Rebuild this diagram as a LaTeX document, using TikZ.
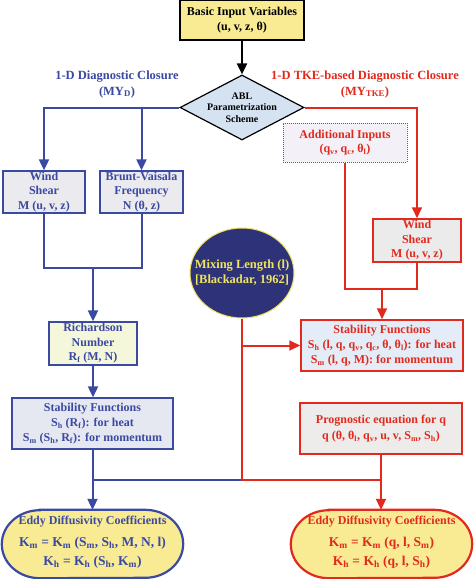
\documentclass[tikz,border=0pt]{standalone}
\usepackage{fontspec}
\setmainfont{Liberation Serif}
\usetikzlibrary{shapes.geometric,arrows.meta}
\definecolor{cblue}{HTML}{3A49A2}
\definecolor{cred}{HTML}{E12A1D}
\definecolor{yel}{HTML}{F8EB93}
\definecolor{diafill}{HTML}{D4E2F1}
\definecolor{greyfill}{HTML}{EBEBEF}
\definecolor{rifill}{HTML}{F5F7DB}
\definecolor{stlfill}{HTML}{E6E8F1}
\definecolor{aifill}{HTML}{F3F0F8}
\definecolor{wsrfill}{HTML}{ECEBEB}
\definecolor{strfill}{HTML}{E3ECF7}
\definecolor{pgfill}{HTML}{EEEBEB}
\definecolor{navy}{HTML}{2E3278}
\definecolor{mlyel}{HTML}{EEE462}
\newcommand{\sbs}[1]{\textsubscript{#1}}
\begin{document}
\begin{tikzpicture}[x=1pt,y=-1pt,
  txt/.style={font=\bfseries\fontsize{12}{14.5}\selectfont, align=center},
  bbox/.style={txt, rectangle, draw=cblue, line width=1.3pt, text=cblue, inner sep=0pt},
  rbox/.style={txt, rectangle, draw=cred, line width=1.5pt, text=cred, inner sep=0pt},
  bl/.style={draw=cblue, line width=2pt},
  rl/.style={draw=cred, line width=2pt},
  tip/.style={-{Triangle[length=11pt,width=10pt]}},
  stadium/.style={fill=yel, line width=2.2pt},
]
\useasboundingbox (0,0) rectangle (474,579);
\clip (0,0) rectangle (474,579);
\fill[white] (0,0) rectangle (474,579);

% top
\node[txt, rectangle, draw=black, line width=1.6pt, fill=yel, minimum width=124, minimum height=40, inner sep=0pt] (basic) at (242,20) {Basic Input Variables\\(u, v, z, θ)};
\node[diamond, draw=black, line width=1.2pt, fill=diafill, minimum width=124, minimum height=65, inner sep=0pt] (abl) at (242,107.5) {};
\node[font=\bfseries\fontsize{10}{11.5}\selectfont, align=center, text=black] (abltxt) at (abl) {ABL\\Parametrization\\Scheme};

\node[txt, text=cblue, font=\bfseries\fontsize{12.5}{16}\selectfont] (lblL) at (117,84) {1-D Diagnostic Closure\\(MY\sbs{D})};
\node[txt, text=cred, font=\bfseries\fontsize{12.5}{16}\selectfont] (lblR) at (365,84) {1-D TKE-based Diagnostic Closure\\(MY\sbs{TKE})};

% left branch
\node[bbox, fill=greyfill, minimum width=82, minimum height=42] (wsl) at (44,192) {Wind\\Shear\\M (u, v, z)};
\node[bbox, fill=greyfill, minimum width=83, minimum height=42] (bvf) at (141.5,192) {Brunt-Vaisala\\Frequency\\N (θ, z)};
\node[bbox, fill=rifill, minimum width=88, minimum height=43] (ri) at (93,343.5) {Richardson\\Number\\R\sbs{f} (M, N)};
\node[bbox, fill=stlfill, minimum width=161, minimum height=51, font=\bfseries\fontsize{12}{15}\selectfont] (stl) at (92.5,423.5) {Stability Functions\\S\sbs{h} (R\sbs{f}): for heat\\S\sbs{m} (S\sbs{h}, R\sbs{f}): for momentum};

% right branch
\node[rbox, dash pattern=on 1pt off 1pt, line width=1pt, fill=aifill, minimum width=124, minimum height=39] (ai) at (345,142.5) {Additional Inputs\\(q\sbs{v}, q\sbs{c}, θ\sbs{l})};
\node[rbox, fill=wsrfill, minimum width=88, minimum height=43] (wsr) at (417,240.5) {Wind\\Shear\\M (u, v, z)};
\node[rbox, fill=strfill, minimum width=162, minimum height=51, font=\bfseries\fontsize{12}{15}\selectfont] (str) at (382,345.5) {Stability Functions\\S\sbs{h} (l, q, q\sbs{v}, q\sbs{c}, θ, θ\sbs{l}): for heat\\S\sbs{m} (l, q, M): for momentum};
\node[rbox, fill=pgfill, minimum width=162, minimum height=51, font=\bfseries\fontsize{12}{16}\selectfont] (pg) at (381,428.5) {Prognostic equation for q\\q (θ, θ\sbs{l}, q\sbs{v}, u, v, S\sbs{m}, S\sbs{h})};

% mixing length
\node[ellipse, draw=mlyel, line width=1pt, fill=navy, minimum width=104, minimum height=90, inner sep=0pt] (ml) at (242,273) {};
\node[text=mlyel, font=\bfseries\fontsize{12.5}{15}\selectfont, align=center] (mltxt) at (ml) {Mixing Length (l)\\{[}Blackadar, 1962{]}};

% eddy shapes (stadiums with elliptical ends)
\node[minimum width=181, minimum height=68, inner sep=0pt] (edl) at (92.5,544) {};
\node[minimum width=181, minimum height=68, inner sep=0pt] (edr) at (381.5,544) {};
\draw[stadium, draw=cblue] ([xshift=38pt]edl.north west) -- ([xshift=-38pt]edl.north east) arc[start angle=90, end angle=-90, x radius=38pt, y radius=34pt] -- ([xshift=38pt]edl.south west) arc[start angle=270, end angle=90, x radius=38pt, y radius=34pt] -- cycle;
\draw[stadium, draw=cred] ([xshift=38pt]edr.north west) -- ([xshift=-38pt]edr.north east) arc[start angle=90, end angle=-90, x radius=38pt, y radius=34pt] -- ([xshift=38pt]edr.south west) arc[start angle=270, end angle=90, x radius=38pt, y radius=34pt] -- cycle;
\node[text=cblue, font=\bfseries\fontsize{12}{14}\selectfont] (edlt) at (92.5,522) {Eddy Diffusivity Coefficients};
\node[text=cblue, font=\bfseries\fontsize{13.5}{19}\selectfont, align=center] (edlf) at (92.5,552.5) {K\sbs{m} = K\sbs{m} (S\sbs{m}, S\sbs{h}, M, N, l)\\K\sbs{h} = K\sbs{h} (S\sbs{h}, K\sbs{m})};
\node[text=cred, font=\bfseries\fontsize{12}{14}\selectfont] (edrt) at (381.5,522) {Eddy Diffusivity Coefficients};
\node[text=cred, font=\bfseries\fontsize{13.5}{19}\selectfont, align=center] (edrf) at (381.5,552.5) {K\sbs{m} = K\sbs{m} (q, l, S\sbs{m})\\K\sbs{h} = K\sbs{h} (q, l, S\sbs{h})};

% connectors
\draw[black, line width=2pt, tip] (basic.south) -- (abl.north);
\draw[bl, tip] (abl.west) -| (wsl.north);
\draw[bl, tip] (abl.west -| bvf.north) -- (bvf.north);
\coordinate (jl) at (93,268);
\draw[bl] (wsl.south) |- (jl) -| (bvf.south);
\draw[bl, tip] (jl) -- (ri.north);
\draw[bl, tip] (ri.south) -- (ri.south |- stl.north);
\coordinate (jb) at (242,480);
\draw[bl, tip] (stl.south) -- (stl.south |- edl.north);
\draw[bl] (stl.south |- jb) -- (jb);
\draw[rl] (ml.south) -- (jb) -- (pg.south |- jb);
\draw[rl, tip] (pg.south) -- (pg.south |- edr.north);
\draw[rl, tip] (abl.east) -| (wsr.north);
\coordinate (jr) at (382,289);
\draw[rl] (ai.south) |- (jr) -| (wsr.south);
\draw[rl, tip] (jr) -- (str.north);
\draw[rl, tip] (ml.south |- str.west) -- (str.west);
\end{tikzpicture}
\end{document}
